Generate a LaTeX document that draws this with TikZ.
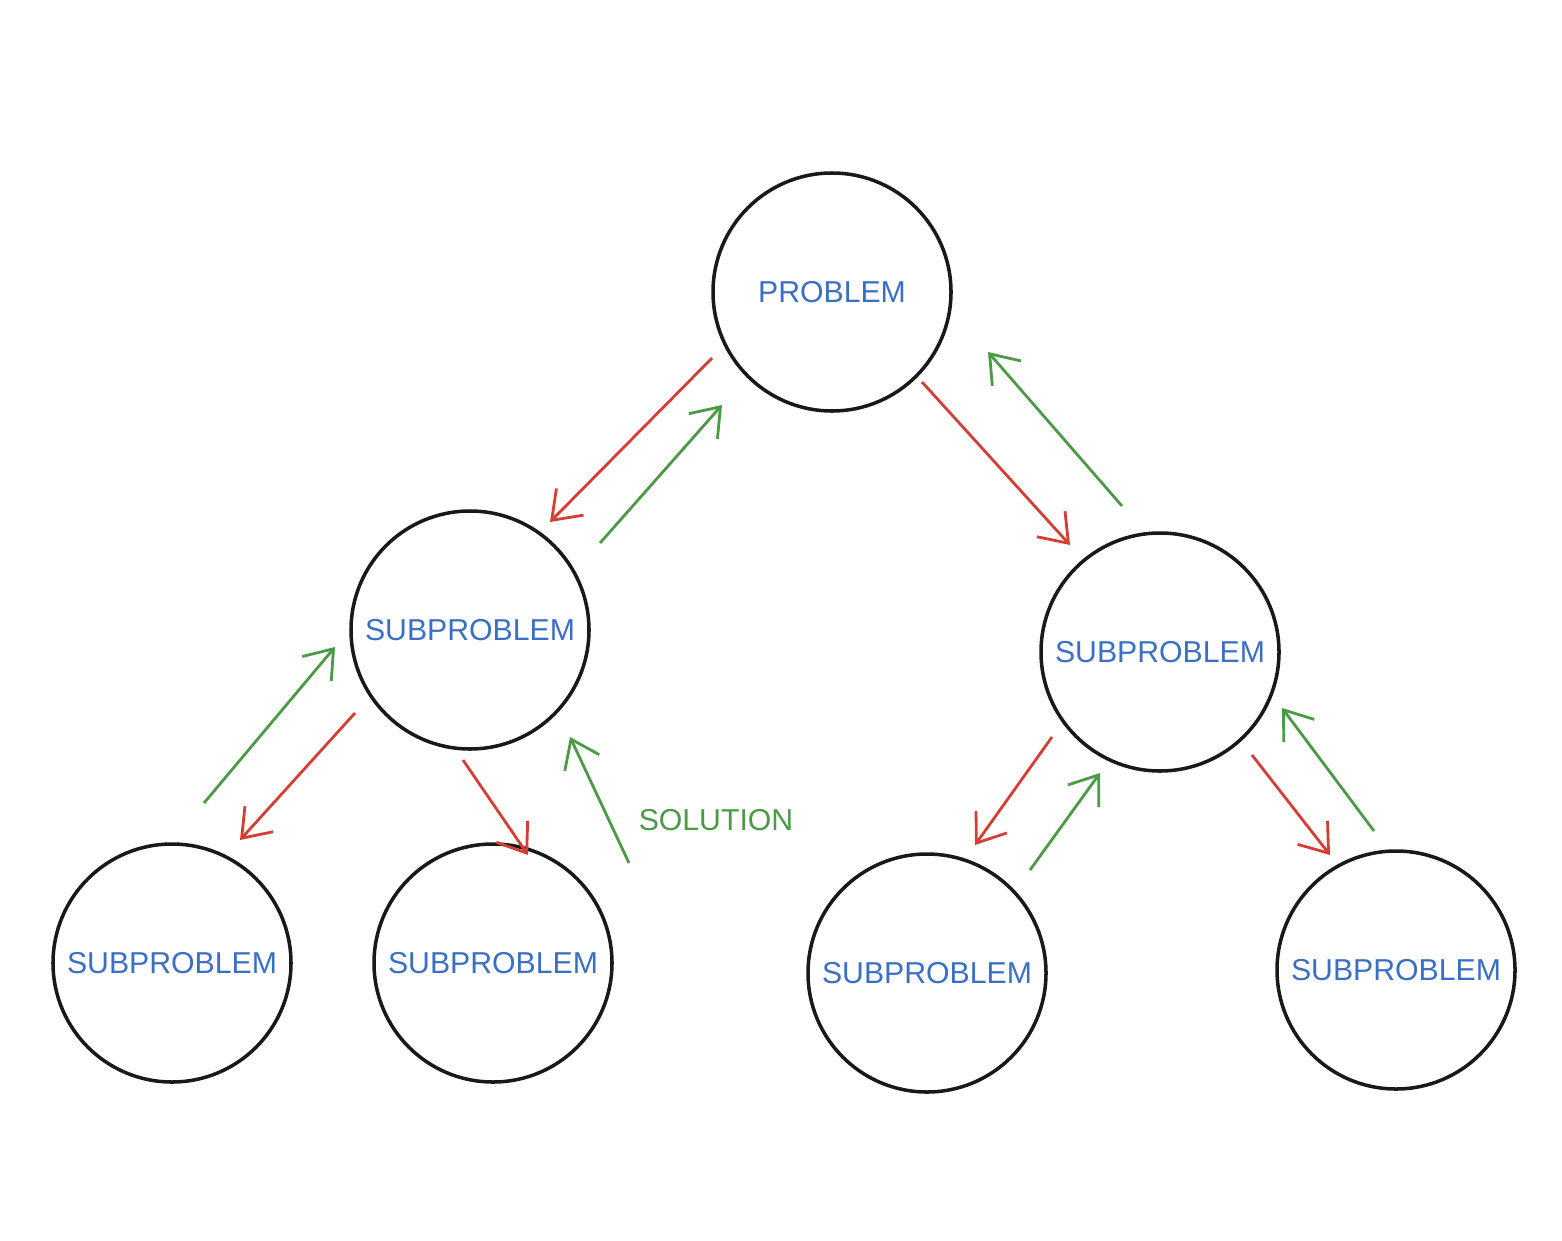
\documentclass[tikz,border=0pt]{standalone}
\usepackage{fontspec}
\setmainfont{Liberation Sans}
\usetikzlibrary{arrows.meta}
\definecolor{txtblue}{HTML}{3A6FC4}
\definecolor{down}{HTML}{D43F35}
\definecolor{up}{HTML}{4C9A45}
\tikzset{
  prob/.style={draw=black!90, line width=1pt, circle, minimum size=2.38cm, inner sep=0pt,
    font=\fontsize{8.6}{10}\selectfont, text=txtblue},
  dn/.style={draw=down, line width=0.8pt, -{Straight Barb[length=2.6mm,width=3.8mm]}},
  upw/.style={draw=up, line width=0.8pt, -{Straight Barb[length=2.6mm,width=3.8mm]}}
}
\begin{document}
\begin{tikzpicture}[scale=1]
\useasboundingbox (0,0) rectangle (15.62,12.4);
%\draw [lightgray](0,0) grid (16,12);

\node[prob] (p)  at ( 8.32,9.48) {PROBLEM};       % raiz
\node[prob] (l)  at ( 4.70,6.10) {SUBPROBLEM};    % esquerda
\node[prob] (r)  at (11.60,5.88) {SUBPROBLEM};    % direita
\node[prob] (ll) at ( 1.72,2.77) {SUBPROBLEM};
\node[prob] (lr) at ( 4.93,2.77) {SUBPROBLEM};
\node[prob] (rl) at ( 9.27,2.67) {SUBPROBLEM};
\node[prob] (rr) at (13.96,2.70) {SUBPROBLEM};

% pontas das setas
\coordinate (pl1) at (7.12,8.82); \coordinate (pl2) at (5.50,7.18);
\coordinate (lp1) at (6.00,6.97); \coordinate (lp2) at (7.22,8.35);
\coordinate (pr1) at (9.22,8.58); \coordinate (pr2) at (10.70,6.95);
\coordinate (rp1) at (11.22,7.34); \coordinate (rp2) at (9.88,8.88);
\coordinate (a1) at (2.04,4.37); \coordinate (a2) at (3.35,5.93);
\coordinate (b1) at (3.55,5.27); \coordinate (b2) at (2.40,4.00);
\coordinate (c1) at (4.63,4.80); \coordinate (c2) at (5.28,3.85);
\coordinate (d1) at (6.29,3.77); \coordinate (d2) at (5.70,5.03);
\coordinate (e1) at (10.52,5.03); \coordinate (e2) at (9.75,3.95);
\coordinate (f1) at (10.30,3.70); \coordinate (f2) at (11.00,4.67);
\coordinate (g1) at (12.52,4.85); \coordinate (g2) at (13.30,3.85);
\coordinate (h1) at (13.74,4.09); \coordinate (h2) at (12.82,5.32);

\draw [dn] (pl1)--(pl2);
\draw [upw](lp1)--(lp2);
\draw [dn] (pr1)--(pr2);
\draw [upw](rp1)--(rp2);
\draw [upw](a1)--(a2);
\draw [dn] (b1)--(b2);
\draw [dn] (c1)--(c2);
\draw [upw](d1)--(d2);
\draw [dn] (e1)--(e2);
\draw [upw](f1)--(f2);
\draw [dn] (g1)--(g2);
\draw [upw](h1)--(h2);

\node[text=up, font=\fontsize{8.6}{10}\selectfont] (sol) at (7.16,4.20) {SOLUTION};
\end{tikzpicture}
\end{document}
